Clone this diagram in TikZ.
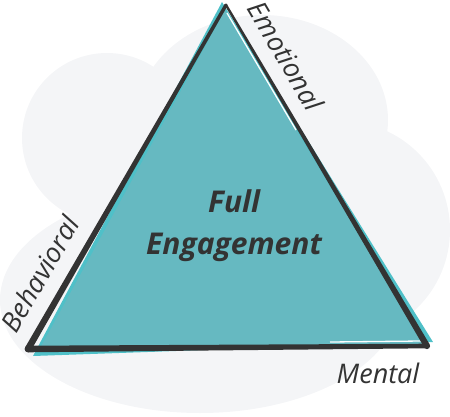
\documentclass[tikz,border=0pt]{standalone}
\usepackage{fontspec}
\setmainfont{Open Sans}
\usetikzlibrary{calc}
\definecolor{cloudgray}{HTML}{F4F5F7}
\definecolor{tealfill}{HTML}{66B9C1}
\definecolor{tealbright}{HTML}{4FC0C8}
\definecolor{ink}{HTML}{333333}
\tikzset{
  tagtext/.style={text=ink,inner sep=0pt,font=\itshape\fontsize{27}{30}\selectfont},
  titletext/.style={text=ink,inner sep=0pt,align=center,font=\bfseries\itshape\fontsize{30}{42}\selectfont},
}
% tapered pen stroke between two named points
\newcommand{\penstroke}[4]{%
  \fill[ink] let \p1=($(#2)-(#1)$), \n1={atan2(\y1,\x1)} in
    ($(#1)+(\n1+90:#3)$) -- ($(#2)+(\n1+90:#4)$) -- ($(#2)+(\n1-90:#4)$) -- ($(#1)+(\n1-90:#3)$) -- cycle;
  \fill[ink] (#1) circle (#3) (#2) circle (#4);
}
\begin{document}
\begin{tikzpicture}[x=1pt,y=-1pt]
  \useasboundingbox (0,0) rectangle (450,416);
  % cloud behind
  \fill[cloudgray] (107,138) circle (85pt);
  \fill[cloudgray] (262,120) ellipse (126pt and 105pt);
  \fill[cloudgray] (341,230) circle (109pt);
  \fill[cloudgray] (200,300) ellipse (200pt and 113pt);
  \fill[cloudgray] (107,138) -- (262,120) -- (341,230) -- (200,300) -- cycle;
  % triangle
  \coordinate (apex) at (226,5);
  \coordinate (lcorner) at (28,349);
  \coordinate (rcorner) at (427,346);
  \fill[tealbright] (222,2) -- (33,356) -- (433,342) -- cycle;
  \fill[tealfill] (225,10) -- (38,352) -- (424,344) -- cycle;
  \draw[white,line width=1.3pt] (227,13) -- (296,130);
  \draw[white,line width=1.3pt] (330,342) -- (421,341);
  \penstroke{lcorner}{apex}{3.3pt}{1.7pt}
  \penstroke{apex}{rcorner}{1.2pt}{3.1pt}
  \penstroke{lcorner}{rcorner}{3.3pt}{2.3pt}
  % labels
  \node[titletext] (full) at (234,226) {Full\\Engagement};
  \node[tagtext,rotate=-59.7] (emo) at (286,56) {Emotional};
  \node[tagtext,rotate=60] (beh) at (40,274) {Behavioral};
  \node[tagtext] (ment) at (378,373) {Mental};
\end{tikzpicture}
\end{document}
